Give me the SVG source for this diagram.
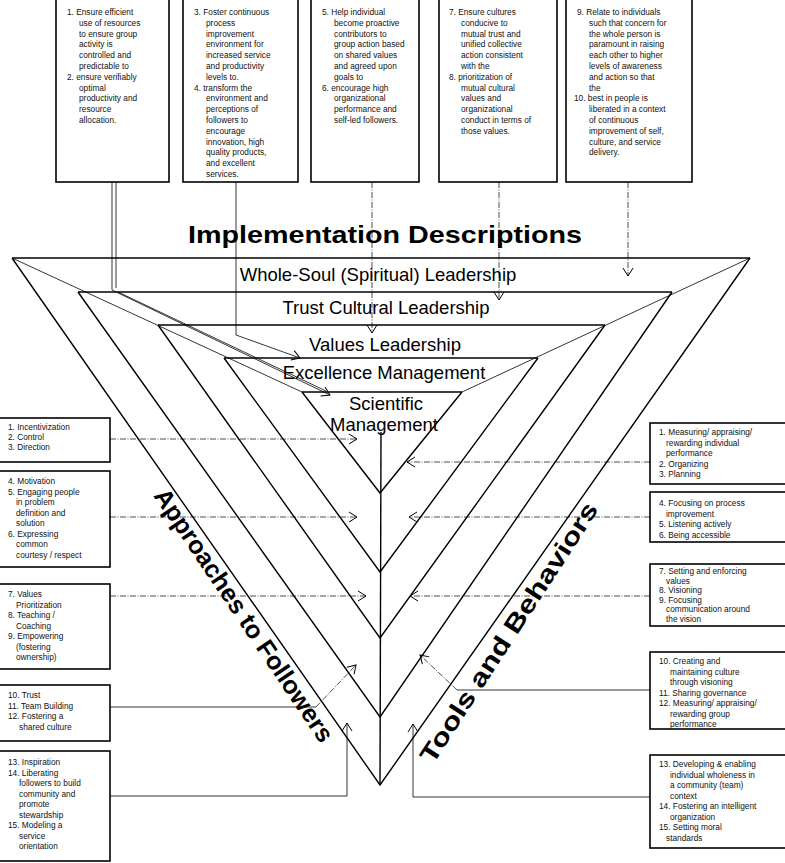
<svg xmlns="http://www.w3.org/2000/svg" width="785" height="863" viewBox="0 0 785 863">
<defs>
<marker id="ah" markerWidth="12" markerHeight="12" refX="10" refY="5" orient="auto" markerUnits="userSpaceOnUse" viewBox="0 0 12 10"><polyline points="2,0 10,5 2,10" fill="none" stroke="#000" stroke-width="1"/></marker>
</defs>
<style>
.bx{fill:#fff;stroke:#000;stroke-width:1.6}
.t{font-family:"Liberation Sans",Arial,sans-serif;font-size:8.3px;fill:#111}
.v{fill:none;stroke:#000;stroke-width:1.4}
.lab{font-family:"Liberation Sans",Arial,sans-serif;font-size:18.5px;fill:#000;text-anchor:middle}
.side{font-family:"Liberation Sans",Arial,sans-serif;font-size:25px;font-weight:bold;fill:#000;text-anchor:middle}
.c{fill:none;stroke:#000;stroke-width:0.8}
.d{fill:none;stroke:#000;stroke-width:0.7;stroke-dasharray:6 1.5 1 1.5}
</style>
<rect width="785" height="863" fill="#fff"/>
<text x="385" y="243" font-family="Liberation Sans,Arial,sans-serif" font-size="24" font-weight="bold" text-anchor="middle" textLength="394" lengthAdjust="spacingAndGlyphs">Implementation Descriptions</text>
<g id="triangles">
<line class="v" x1="12" y1="258" x2="750" y2="258"/>
<polyline class="v" points="12,258 380,785 750,258"/>
<line class="v" x1="78" y1="292" x2="672" y2="292"/>
<polyline class="v" points="78,292 380,717 672,292"/>
<line class="v" x1="158" y1="325" x2="605" y2="325"/>
<polyline class="v" points="158,325 380,638 605,325"/>
<line class="v" x1="224" y1="358" x2="538" y2="358"/>
<polyline class="v" points="224,358 380,572 538,358"/>
<line class="v" x1="302" y1="392" x2="462" y2="392"/>
<polyline class="v" points="302,392 380,493 462,392"/>
<line class="c" x1="12" y1="258" x2="302" y2="392"/>
<line class="c" x1="750" y1="258" x2="462" y2="392"/>
<line class="v" x1="381" y1="432" x2="380" y2="785"/>
</g>
<g id="labels">
<text class="lab" x="378" y="281">Whole-Soul (Spiritual) Leadership</text>
<text class="lab" x="386" y="314">Trust Cultural Leadership</text>
<text class="lab" x="385" y="351">Values Leadership</text>
<text class="lab" x="384" y="379">Excellence Management</text>
<text class="lab" x="386" y="410">Scientific</text>
<text class="lab" x="384" y="431">Management</text>
<text class="side" transform="translate(237,620) rotate(56)" textLength="300" lengthAdjust="spacingAndGlyphs">Approaches to Followers</text>
<text class="side" transform="translate(516,637) rotate(-57)" textLength="305" lengthAdjust="spacingAndGlyphs">Tools and Behaviors</text>
</g>
<g id="connectors">
<polyline class="c" points="112,182 112,290 330,395" marker-end="url(#ah)"/>
<polyline class="c" points="116,182 116,288" />
<line class="c" x1="118" y1="292" x2="326" y2="391"/>
<polyline class="c" points="236,182 236,335 300,358" marker-end="url(#ah)"/>
<line class="d" x1="372" y1="182" x2="372" y2="333" marker-end="url(#ah)"/>
<line class="d" x1="499" y1="182" x2="499" y2="300" marker-end="url(#ah)"/>
<line class="d" x1="628" y1="182" x2="628" y2="276" marker-end="url(#ah)"/>
<line class="d" x1="110" y1="439" x2="357" y2="439" marker-end="url(#ah)"/>
<line class="d" x1="110" y1="517" x2="357" y2="517" marker-end="url(#ah)"/>
<line class="d" x1="110" y1="596" x2="366" y2="596" marker-end="url(#ah)"/>
<line class="c" x1="110" y1="707" x2="316" y2="707"/>
<line class="d" x1="316" y1="707" x2="356" y2="665" marker-end="url(#ah)"/>
<polyline class="c" points="110,796 347,796 347,723" marker-end="url(#ah)"/>
<line class="d" x1="650" y1="462" x2="407" y2="462" marker-end="url(#ah)"/>
<line class="d" x1="650" y1="517" x2="409" y2="517" marker-end="url(#ah)"/>
<line class="d" x1="650" y1="596" x2="410" y2="596" marker-end="url(#ah)"/>
<line class="c" x1="650" y1="690" x2="457" y2="690"/>
<line class="d" x1="457" y1="690" x2="420" y2="655" marker-end="url(#ah)"/>
<polyline class="c" points="650,797 413,797 413,724" marker-end="url(#ah)"/>
</g>
<g id="top1"><rect class="bx" x="56" y="-2" width="113" height="184"/>
<text class="t"><tspan x="67" y="15">1. Ensure efficient</tspan><tspan x="79" y="25.8">use of resources</tspan><tspan x="79" y="36.6">to ensure group</tspan><tspan x="79" y="47.4">activity is</tspan><tspan x="79" y="58.2">controlled and</tspan><tspan x="79" y="69">predictable to</tspan><tspan x="67" y="79.8">2. ensure verifiably</tspan><tspan x="79" y="90.6">optimal</tspan><tspan x="79" y="101.4">productivity and</tspan><tspan x="79" y="112.2">resource</tspan><tspan x="79" y="123">allocation.</tspan></text></g>
<g id="top3"><rect class="bx" x="183" y="-2" width="115" height="184"/>
<text class="t"><tspan x="194" y="15">3. Foster continuous</tspan><tspan x="206" y="25.8">process</tspan><tspan x="206" y="36.6">improvement</tspan><tspan x="206" y="47.4">environment for</tspan><tspan x="206" y="58.2">increased service</tspan><tspan x="206" y="69">and productivity</tspan><tspan x="206" y="79.8">levels to.</tspan><tspan x="194" y="90.6">4. transform the</tspan><tspan x="206" y="101.4">environment and</tspan><tspan x="206" y="112.2">perceptions of</tspan><tspan x="206" y="123">followers to</tspan><tspan x="206" y="133.8">encourage</tspan><tspan x="206" y="144.6">innovation, high</tspan><tspan x="206" y="155.4">quality products,</tspan><tspan x="206" y="166.2">and excellent</tspan><tspan x="206" y="177">services.</tspan></text></g>
<g id="top5"><rect class="bx" x="311" y="-2" width="108" height="184"/>
<text class="t"><tspan x="322" y="15">5. Help individual</tspan><tspan x="334" y="25.8">become proactive</tspan><tspan x="334" y="36.6">contributors to</tspan><tspan x="334" y="47.4">group action based</tspan><tspan x="334" y="58.2">on shared values</tspan><tspan x="334" y="69">and agreed upon</tspan><tspan x="334" y="79.8">goals to</tspan><tspan x="322" y="90.6">6. encourage high</tspan><tspan x="334" y="101.4">organizational</tspan><tspan x="334" y="112.2">performance and</tspan><tspan x="334" y="123">self-led followers.</tspan></text></g>
<g id="top7"><rect class="bx" x="439" y="-2" width="118" height="184"/>
<text class="t"><tspan x="449" y="15">7. Ensure cultures</tspan><tspan x="461" y="25.8">conducive to</tspan><tspan x="461" y="36.6">mutual trust and</tspan><tspan x="461" y="47.4">unified collective</tspan><tspan x="461" y="58.2">action consistent</tspan><tspan x="461" y="69">with the</tspan><tspan x="449" y="79.8">8. prioritization of</tspan><tspan x="461" y="90.6">mutual cultural</tspan><tspan x="461" y="101.4">values and</tspan><tspan x="461" y="112.2">organizational</tspan><tspan x="461" y="123">conduct in terms of</tspan><tspan x="461" y="133.8">those values.</tspan></text></g>
<g id="top9"><rect class="bx" x="566" y="-2" width="126" height="184"/>
<text class="t"><tspan x="577" y="15">9. Relate to individuals</tspan><tspan x="589" y="25.8">such that concern for</tspan><tspan x="589" y="36.6">the whole person is</tspan><tspan x="589" y="47.4">paramount in raising</tspan><tspan x="589" y="58.2">each other to higher</tspan><tspan x="589" y="69">levels of awareness</tspan><tspan x="589" y="79.8">and action so that</tspan><tspan x="589" y="90.6">the</tspan><tspan x="574" y="101.4">10. best in people is</tspan><tspan x="589" y="112.2">liberated in a context</tspan><tspan x="589" y="123">of continuous</tspan><tspan x="589" y="133.8">improvement of self,</tspan><tspan x="589" y="144.6">culture, and service</tspan><tspan x="589" y="155.4">delivery.</tspan></text></g>
<g id="left1"><rect class="bx" x="-2" y="418" width="112" height="44"/>
<text class="t"><tspan x="8" y="430">1. Incentivization</tspan><tspan x="8" y="440">2. Control</tspan><tspan x="8" y="450">3. Direction</tspan></text></g>
<g id="left2"><rect class="bx" x="-2" y="471" width="112" height="96"/>
<text class="t"><tspan x="8" y="484">4. Motivation</tspan><tspan x="8" y="494.5">5. Engaging people</tspan><tspan x="16" y="505">in problem</tspan><tspan x="16" y="515.5">definition and</tspan><tspan x="16" y="526">solution</tspan><tspan x="8" y="536.5">6. Expressing</tspan><tspan x="16" y="547">common</tspan><tspan x="16" y="557.5">courtesy / respect</tspan></text></g>
<g id="left3"><rect class="bx" x="-2" y="584" width="112" height="85"/>
<text class="t"><tspan x="8" y="597">7. Values</tspan><tspan x="16" y="607.5">Prioritization</tspan><tspan x="8" y="618">8. Teaching /</tspan><tspan x="16" y="628.5">Coaching</tspan><tspan x="8" y="639">9. Empowering</tspan><tspan x="16" y="649.5">(fostering</tspan><tspan x="16" y="660">ownership)</tspan></text></g>
<g id="left4"><rect class="bx" x="-2" y="685" width="112" height="56"/>
<text class="t"><tspan x="8" y="698">10. Trust</tspan><tspan x="8" y="708.5">11. Team Building</tspan><tspan x="8" y="719">12. Fostering a</tspan><tspan x="19" y="729.5">shared culture</tspan></text></g>
<g id="left5"><rect class="bx" x="-2" y="751" width="112" height="110"/>
<text class="t"><tspan x="8" y="765">13. Inspiration</tspan><tspan x="8" y="775.5">14. Liberating</tspan><tspan x="19" y="786">followers to build</tspan><tspan x="19" y="796.5">community and</tspan><tspan x="19" y="807">promote</tspan><tspan x="19" y="817.5">stewardship</tspan><tspan x="8" y="828">15. Modeling a</tspan><tspan x="19" y="838.5">service</tspan><tspan x="19" y="849">orientation</tspan></text></g>
<g id="right1"><rect class="bx" x="650" y="423" width="137" height="61"/>
<text class="t"><tspan x="659" y="435">1. Measuring/ appraising/</tspan><tspan x="666" y="445.5">rewarding individual</tspan><tspan x="666" y="456">performance</tspan><tspan x="659" y="466.5">2. Organizing</tspan><tspan x="659" y="477">3.  Planning</tspan></text></g>
<g id="right2"><rect class="bx" x="650" y="492" width="137" height="50"/>
<text class="t"><tspan x="659" y="506">4. Focusing on process</tspan><tspan x="666" y="516.5">improvement</tspan><tspan x="659" y="527">5. Listening actively</tspan><tspan x="659" y="537.5">6. Being accessible</tspan></text></g>
<g id="right3"><rect class="bx" x="650" y="564" width="137" height="62"/>
<text class="t" font-size="8"><tspan x="659" y="574">7. Setting and enforcing</tspan><tspan x="666" y="583.5">values</tspan><tspan x="659" y="593">8. Visioning</tspan><tspan x="659" y="602.5">9. Focusing</tspan><tspan x="666" y="612">communication around</tspan><tspan x="666" y="621.5">the vision</tspan></text></g>
<g id="right4"><rect class="bx" x="650" y="652" width="137" height="77"/>
<text class="t"><tspan x="659" y="664">10. Creating and</tspan><tspan x="670" y="674.5">maintaining culture</tspan><tspan x="670" y="685">through visioning</tspan><tspan x="659" y="695.5">11. Sharing governance</tspan><tspan x="659" y="706">12. Measuring/ appraising/</tspan><tspan x="670" y="716.5">rewarding group</tspan><tspan x="670" y="727">performance</tspan></text></g>
<g id="right5"><rect class="bx" x="650" y="755" width="137" height="93"/>
<text class="t"><tspan x="659" y="767">13. Developing &amp; enabling</tspan><tspan x="670" y="777.5">individual wholeness in</tspan><tspan x="670" y="788">a community (team)</tspan><tspan x="670" y="798.5">context</tspan><tspan x="659" y="809">14. Fostering an intelligent</tspan><tspan x="670" y="819.5">organization</tspan><tspan x="659" y="830">15. Setting moral</tspan><tspan x="666" y="840.5">standards</tspan></text></g>
</svg>
